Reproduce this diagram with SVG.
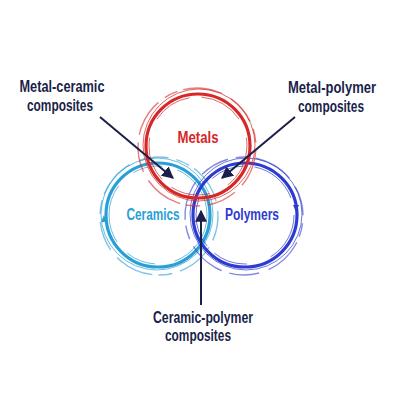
<svg xmlns="http://www.w3.org/2000/svg" width="400" height="400" viewBox="0 0 400 400">
<defs>
<style>
.lbl{font-family:"Liberation Sans",Arial,sans-serif;font-weight:bold;font-size:16px;fill:#1b1f4a}
.ttl{font-family:"Liberation Sans",Arial,sans-serif;font-weight:bold;font-size:16px}
.ring{fill:none}
.main{stroke-width:3.2}
.thin{stroke-width:1;opacity:.7}
.dash{stroke-width:1.4;stroke-dasharray:30 8 14 6 40 10;opacity:.6}
.conn{stroke:#1b1f4a;stroke-width:2;fill:none}
</style>
<marker id="ah" viewBox="0 0 10 10" refX="9" refY="5" markerWidth="6" markerHeight="6" orient="auto">
<path d="M0,0 L10,5 L0,10 z" fill="#1b1f4a"/>
</marker>
</defs>
<rect width="400" height="400" fill="#fff"/>
<g id="ceramics" stroke="#2a9fd6">
<circle class="ring main" cx="158" cy="215" r="52"/>
<circle class="ring thin" cx="157" cy="214" r="56"/>
<circle class="ring dash" cx="159" cy="216" r="59" transform="rotate(40 159 216)"/>
<circle class="ring thin" cx="158" cy="215" r="49" stroke-dasharray="60 20 30 15"/>
<path d="M101,222 l3,-7 l3,7 z" fill="#2a9fd6" stroke="none"/>
<text class="ttl" x="153" y="220" text-anchor="middle" fill="#2a9fd6" stroke="none" textLength="53" lengthAdjust="spacingAndGlyphs">Ceramics</text>
</g>
<g id="polymers" stroke="#2e3bd0">
<circle class="ring main" cx="245" cy="215" r="52"/>
<circle class="ring thin" cx="246" cy="214" r="56"/>
<circle class="ring dash" cx="244" cy="216" r="59" transform="rotate(120 244 216)"/>
<circle class="ring thin" cx="245" cy="215" r="49" stroke-dasharray="50 25 35 10"/>
<path d="M293,205 l3,7 l3,-7 z" fill="#2e3bd0" stroke="none"/>
<text class="ttl" x="252" y="220" text-anchor="middle" fill="#2e3bd0" stroke="none" textLength="54" lengthAdjust="spacingAndGlyphs">Polymers</text>
</g>
<g id="metals" stroke="#d62828">
<circle class="ring main" cx="198" cy="146" r="52"/>
<circle class="ring thin" cx="199" cy="145" r="56"/>
<circle class="ring dash" cx="197" cy="147" r="59" transform="rotate(200 197 147)"/>
<circle class="ring thin" cx="198" cy="146" r="49" stroke-dasharray="45 20 40 12"/>
<text class="ttl" x="198" y="143" text-anchor="middle" fill="#d62828" stroke="none" textLength="41" lengthAdjust="spacingAndGlyphs">Metals</text>
</g>
<g id="label-mc">
<text class="lbl" x="62" y="92" text-anchor="middle" textLength="85" lengthAdjust="spacingAndGlyphs">Metal-ceramic</text>
<text class="lbl" x="60" y="111" text-anchor="middle" textLength="66" lengthAdjust="spacingAndGlyphs">composites</text>
</g>
<g id="label-mp">
<text class="lbl" x="332" y="93" text-anchor="middle" textLength="88" lengthAdjust="spacingAndGlyphs">Metal-polymer</text>
<text class="lbl" x="331" y="112" text-anchor="middle" textLength="66" lengthAdjust="spacingAndGlyphs">composites</text>
</g>
<g id="label-cp">
<text class="lbl" x="203" y="323" text-anchor="middle" textLength="100" lengthAdjust="spacingAndGlyphs">Ceramic-polymer</text>
<text class="lbl" x="198" y="341" text-anchor="middle" textLength="66" lengthAdjust="spacingAndGlyphs">composites</text>
</g>
<g id="connectors">
<line class="conn" x1="100" y1="117" x2="173" y2="178" marker-end="url(#ah)"/>
<line class="conn" x1="295" y1="117" x2="222" y2="178" marker-end="url(#ah)"/>
<line class="conn" x1="201" y1="305" x2="201" y2="211" marker-end="url(#ah)"/>
</g>
</svg>
